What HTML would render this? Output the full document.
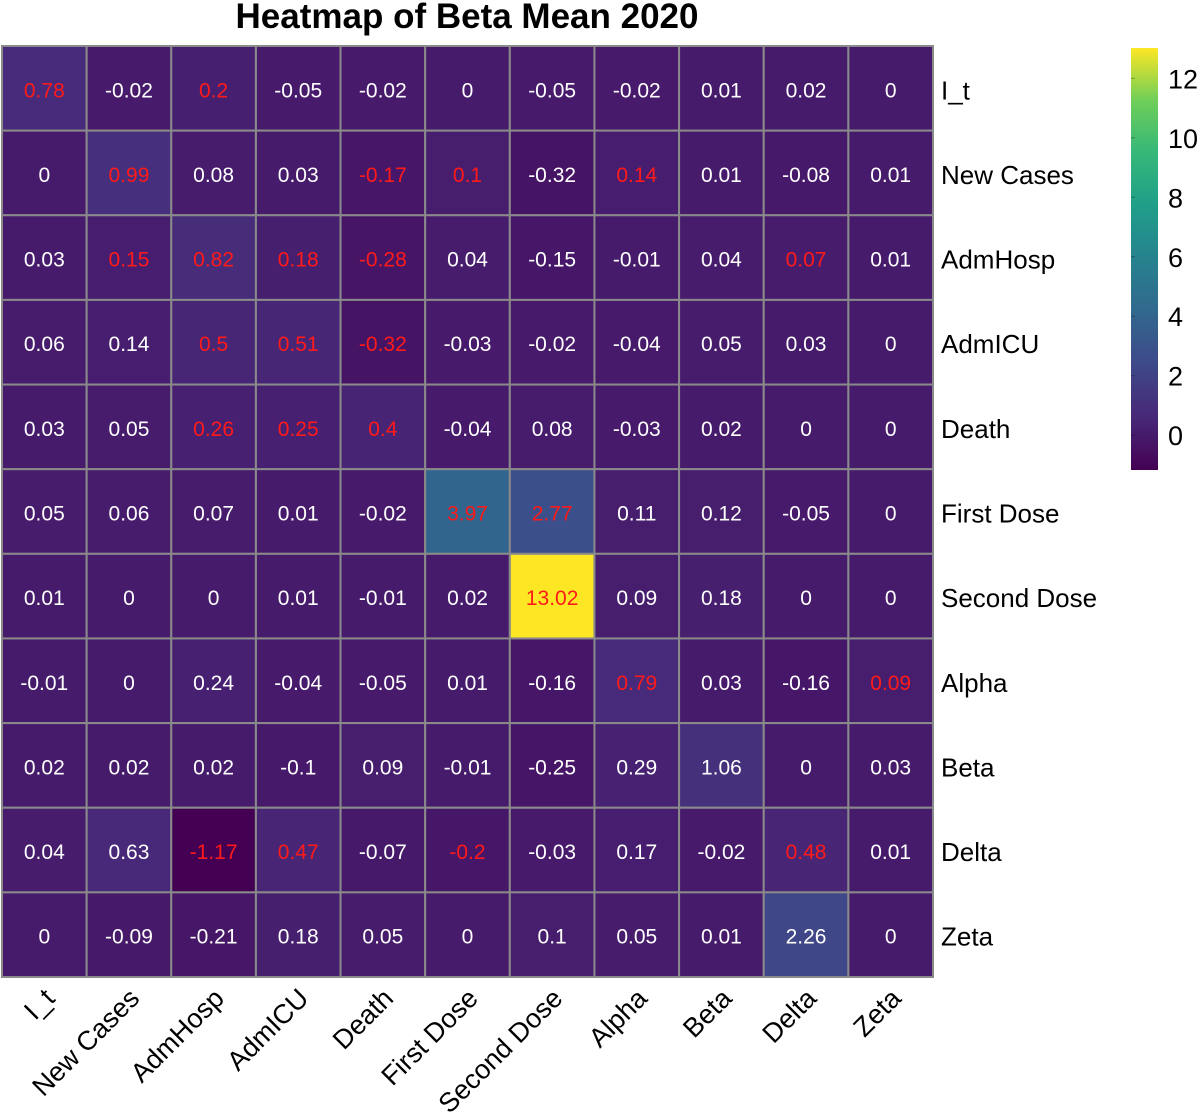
<!DOCTYPE html>
<html><head><meta charset="utf-8"><style>
html,body{margin:0;padding:0;background:#fff;}
svg{display:block;font-family:"Liberation Sans",Arial,sans-serif;}
</style></head><body>
<svg id="chart" width="1200" height="1117" viewBox="0 0 1200 1117" xmlns="http://www.w3.org/2000/svg">
<defs>
<linearGradient id="vir" x1="0" y1="1" x2="0" y2="0">
<stop offset="0" stop-color="#440154"/><stop offset="0.125" stop-color="#482878"/><stop offset="0.25" stop-color="#3e4989"/><stop offset="0.375" stop-color="#31688e"/><stop offset="0.5" stop-color="#26828e"/><stop offset="0.625" stop-color="#1f9e89"/><stop offset="0.75" stop-color="#35b779"/><stop offset="0.875" stop-color="#6ece58"/><stop offset="1" stop-color="#fde725"/>
</linearGradient>
</defs>
<text x="467" y="28" text-anchor="middle" font-size="35" font-weight="bold" fill="#000">Heatmap of Beta Mean 2020</text>
<g id="cells"></g>
<g id="rlabels"></g>
<g id="xlabels"></g>
<rect x="1131" y="48" width="27" height="422" fill="url(#vir)"/>
<g id="cticks"></g>
</svg>
<script>
const labels = ["I_t","New Cases","AdmHosp","AdmICU","Death","First Dose","Second Dose","Alpha","Beta","Delta","Zeta"];
const values = [
[0.78,-0.02,0.2,-0.05,-0.02,0,-0.05,-0.02,0.01,0.02,0],
[0,0.99,0.08,0.03,-0.17,0.1,-0.32,0.14,0.01,-0.08,0.01],
[0.03,0.15,0.82,0.18,-0.28,0.04,-0.15,-0.01,0.04,0.07,0.01],
[0.06,0.14,0.5,0.51,-0.32,-0.03,-0.02,-0.04,0.05,0.03,0],
[0.03,0.05,0.26,0.25,0.4,-0.04,0.08,-0.03,0.02,0,0],
[0.05,0.06,0.07,0.01,-0.02,3.97,2.77,0.11,0.12,-0.05,0],
[0.01,0,0,0.01,-0.01,0.02,13.02,0.09,0.18,0,0],
[-0.01,0,0.24,-0.04,-0.05,0.01,-0.16,0.79,0.03,-0.16,0.09],
[0.02,0.02,0.02,-0.1,0.09,-0.01,-0.25,0.29,1.06,0,0.03],
[0.04,0.63,-1.17,0.47,-0.07,-0.2,-0.03,0.17,-0.02,0.48,0.01],
[0,-0.09,-0.21,0.18,0.05,0,0.1,0.05,0.01,2.26,0]
];
const redFlags = [
[1,0,1,0,0,0,0,0,0,0,0],
[0,1,0,0,1,1,0,1,0,0,0],
[0,1,1,1,1,0,0,0,0,1,0],
[0,0,1,1,1,0,0,0,0,0,0],
[0,0,1,1,1,0,0,0,0,0,0],
[0,0,0,0,0,1,1,0,0,0,0],
[0,0,0,0,0,0,1,0,0,0,0],
[0,0,0,0,0,0,0,1,0,0,1],
[0,0,0,0,0,0,0,0,0,0,0],
[0,0,1,1,0,1,0,0,0,1,0],
[0,0,0,0,0,0,0,0,0,0,0]
];
const cbTicks = [0,2,4,6,8,10,12];
const vmin = -1.17, vmax = 13.02;

const NS="http://www.w3.org/2000/svg";
const gx0=2, gy0=46, gw=931, gh=931, n=labels.length;
const cw=gw/n, ch=gh/n;
const cbTop=48, cbBot=470;
function cbY(v){return cbBot-(v-vmin)/(vmax-vmin)*(cbBot-cbTop);}
const vir=[[68,1,84],[72,40,120],[62,73,137],[49,104,142],[38,130,142],[31,158,137],[53,183,121],[110,206,88],[253,231,37]];
function color(v){
  let t=(v-vmin)/(vmax-vmin); t=Math.max(0,Math.min(1,t));
  const p=t*(vir.length-1), i=Math.min(Math.floor(p),vir.length-2), f=p-i;
  const c=vir[i].map((a,k)=>Math.round(a+(vir[i+1][k]-a)*f));
  return `rgb(${c[0]},${c[1]},${c[2]})`;
}
function mk(tag,attrs,parent){const e=document.createElementNS(NS,tag);for(const k in attrs)e.setAttribute(k,attrs[k]);parent.appendChild(e);return e;}
const cells=document.getElementById('cells');
values.forEach((row,r)=>row.forEach((v,c)=>{
  const rect=mk('rect',{x:gx0+c*cw,y:gy0+r*ch,width:cw,height:ch,fill:color(v),stroke:'#8a8a8a','stroke-width':2},cells);
  
  
  const t=mk('text',{x:gx0+(c+0.5)*cw,y:gy0+(r+0.5)*ch+9,'text-anchor':'middle','font-size':21,fill:redFlags[r][c]?'#ff1a1a':'#fff'},cells);
  t.textContent=String(v);
  
  
}));
const rl=document.getElementById('rlabels');
labels.forEach((l,i)=>{
  const t=mk('text',{x:941,y:gy0+(i+0.5)*ch+11,'font-size':26,fill:'#000'},rl);
  t.textContent=l;
  
  
});
const xl=document.getElementById('xlabels');
labels.forEach((l,i)=>{
  const x=gx0+(i+0.5)*cw+12, y=1000;
  const t=mk('text',{x:x,y:y,'font-size':27,fill:'#000','text-anchor':'end',transform:`rotate(-45 ${x} ${y})`},xl);
  t.textContent=l;
  
  
});
const ct=document.getElementById('cticks');
cbTicks.forEach(v=>{
  const y=cbY(v);
  const ln=mk('line',{x1:1131,x2:1135,y1:y,y2:y,stroke:'#000','stroke-width':1,'stroke-opacity':0.3},ct);
  
  
  const t=mk('text',{x:1168,y:y+10,'font-size':27,fill:'#000'},ct);
  t.textContent=String(v);
  
  
});
</script>
</body></html>
